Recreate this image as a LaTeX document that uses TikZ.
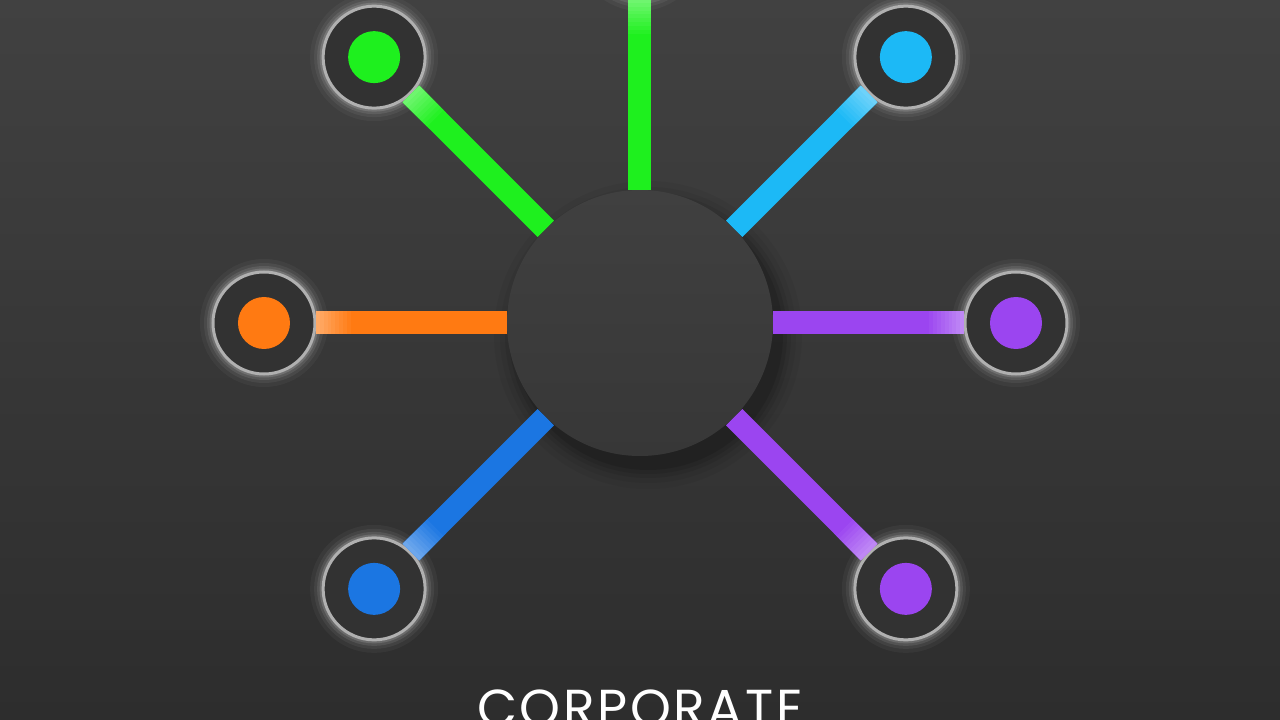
\documentclass[tikz,border=0pt]{standalone}
\usepackage{fontspec}
\setmainfont{Poppins}
\usetikzlibrary{positioning}
\definecolor{bgtop}{HTML}{414141}
\definecolor{bgbot}{HTML}{2D2D2D}
\definecolor{hubtop}{HTML}{404040}
\definecolor{hubbot}{HTML}{373737}
\definecolor{ringdark}{HTML}{323232}
\definecolor{ringline}{HTML}{B0B0B0}
\definecolor{cgreen}{HTML}{1EF01E}
\definecolor{ccyan}{HTML}{1CB9F6}
\definecolor{corange}{HTML}{FF7A12}
\definecolor{cpurple}{HTML}{9B45F0}
\definecolor{cblue}{HTML}{1B76E2}
\tikzset{
  satring/.style={circle, fill=ringdark, minimum size=104, inner sep=0},
  spoke/.style={line width=23, line cap=butt, draw=#1},
}
\newcommand{\satellite}[3]{
	%glow
	\foreach \w/\o in {26/0.04,18/0.06,12/0.09,7/0.14}
	  \draw[white, opacity=\o, line width=\w] (#2:376) circle (51);
	%
	\node[satring] (#1) at (#2:376) {};
	\draw[ringline, line width=3] (#1.center) circle (51);
}
\newcommand{\spokeline}[2]{
	\draw[spoke=#2] (hub) -- (#1);
	%lighter end
	\foreach \k in {0,...,9}{
	  \path (hub) -- (#1) coordinate[pos=0.8+0.02*\k] (p) coordinate[pos=1] (q);
	  \draw[spoke=#2!\the\numexpr100-4*\k\relax!white] (p) -- (q);
	}
	\fill[#2] (#1.center) circle (26);
}

\begin{document}
\begin{tikzpicture}[x=1pt, y=1pt]
	\clip (-640,-397) rectangle (640,323);
	\shade[top color=bgtop, bottom color=bgbot] (-640,-397) rectangle (640,323);
	%
	%shadow of hub
	\foreach \r/\o in {154/0.04,148/0.05,143/0.07,139/0.09,135/0.11}
	  \fill[black, opacity=\o] (8,-12) circle (\r);
	\node[circle, minimum size=266, inner sep=0, top color=hubtop, bottom color=hubbot] (hub) at (0,0) {};
	%
	\satellite{top}{90}{cgreen}
	\satellite{topleft}{135}{cgreen}
	\satellite{topright}{45}{ccyan}
	\satellite{left}{180}{corange}
	\satellite{right}{0}{cpurple}
	\satellite{botleft}{225}{cblue}
	\satellite{botright}{315}{cpurple}
	%
	\spokeline{top}{cgreen}
	\spokeline{topleft}{cgreen}
	\spokeline{topright}{ccyan}
	\spokeline{left}{corange}
	\spokeline{right}{cpurple}
	\spokeline{botleft}{cblue}
	\spokeline{botright}{cpurple}
	%
	\node[white, font=\fontsize{52}{52}\selectfont\addfontfeature{LetterSpace=5}, anchor=base] (title) at (0,-403) {CORPORATE};
\end{tikzpicture}
\end{document}
